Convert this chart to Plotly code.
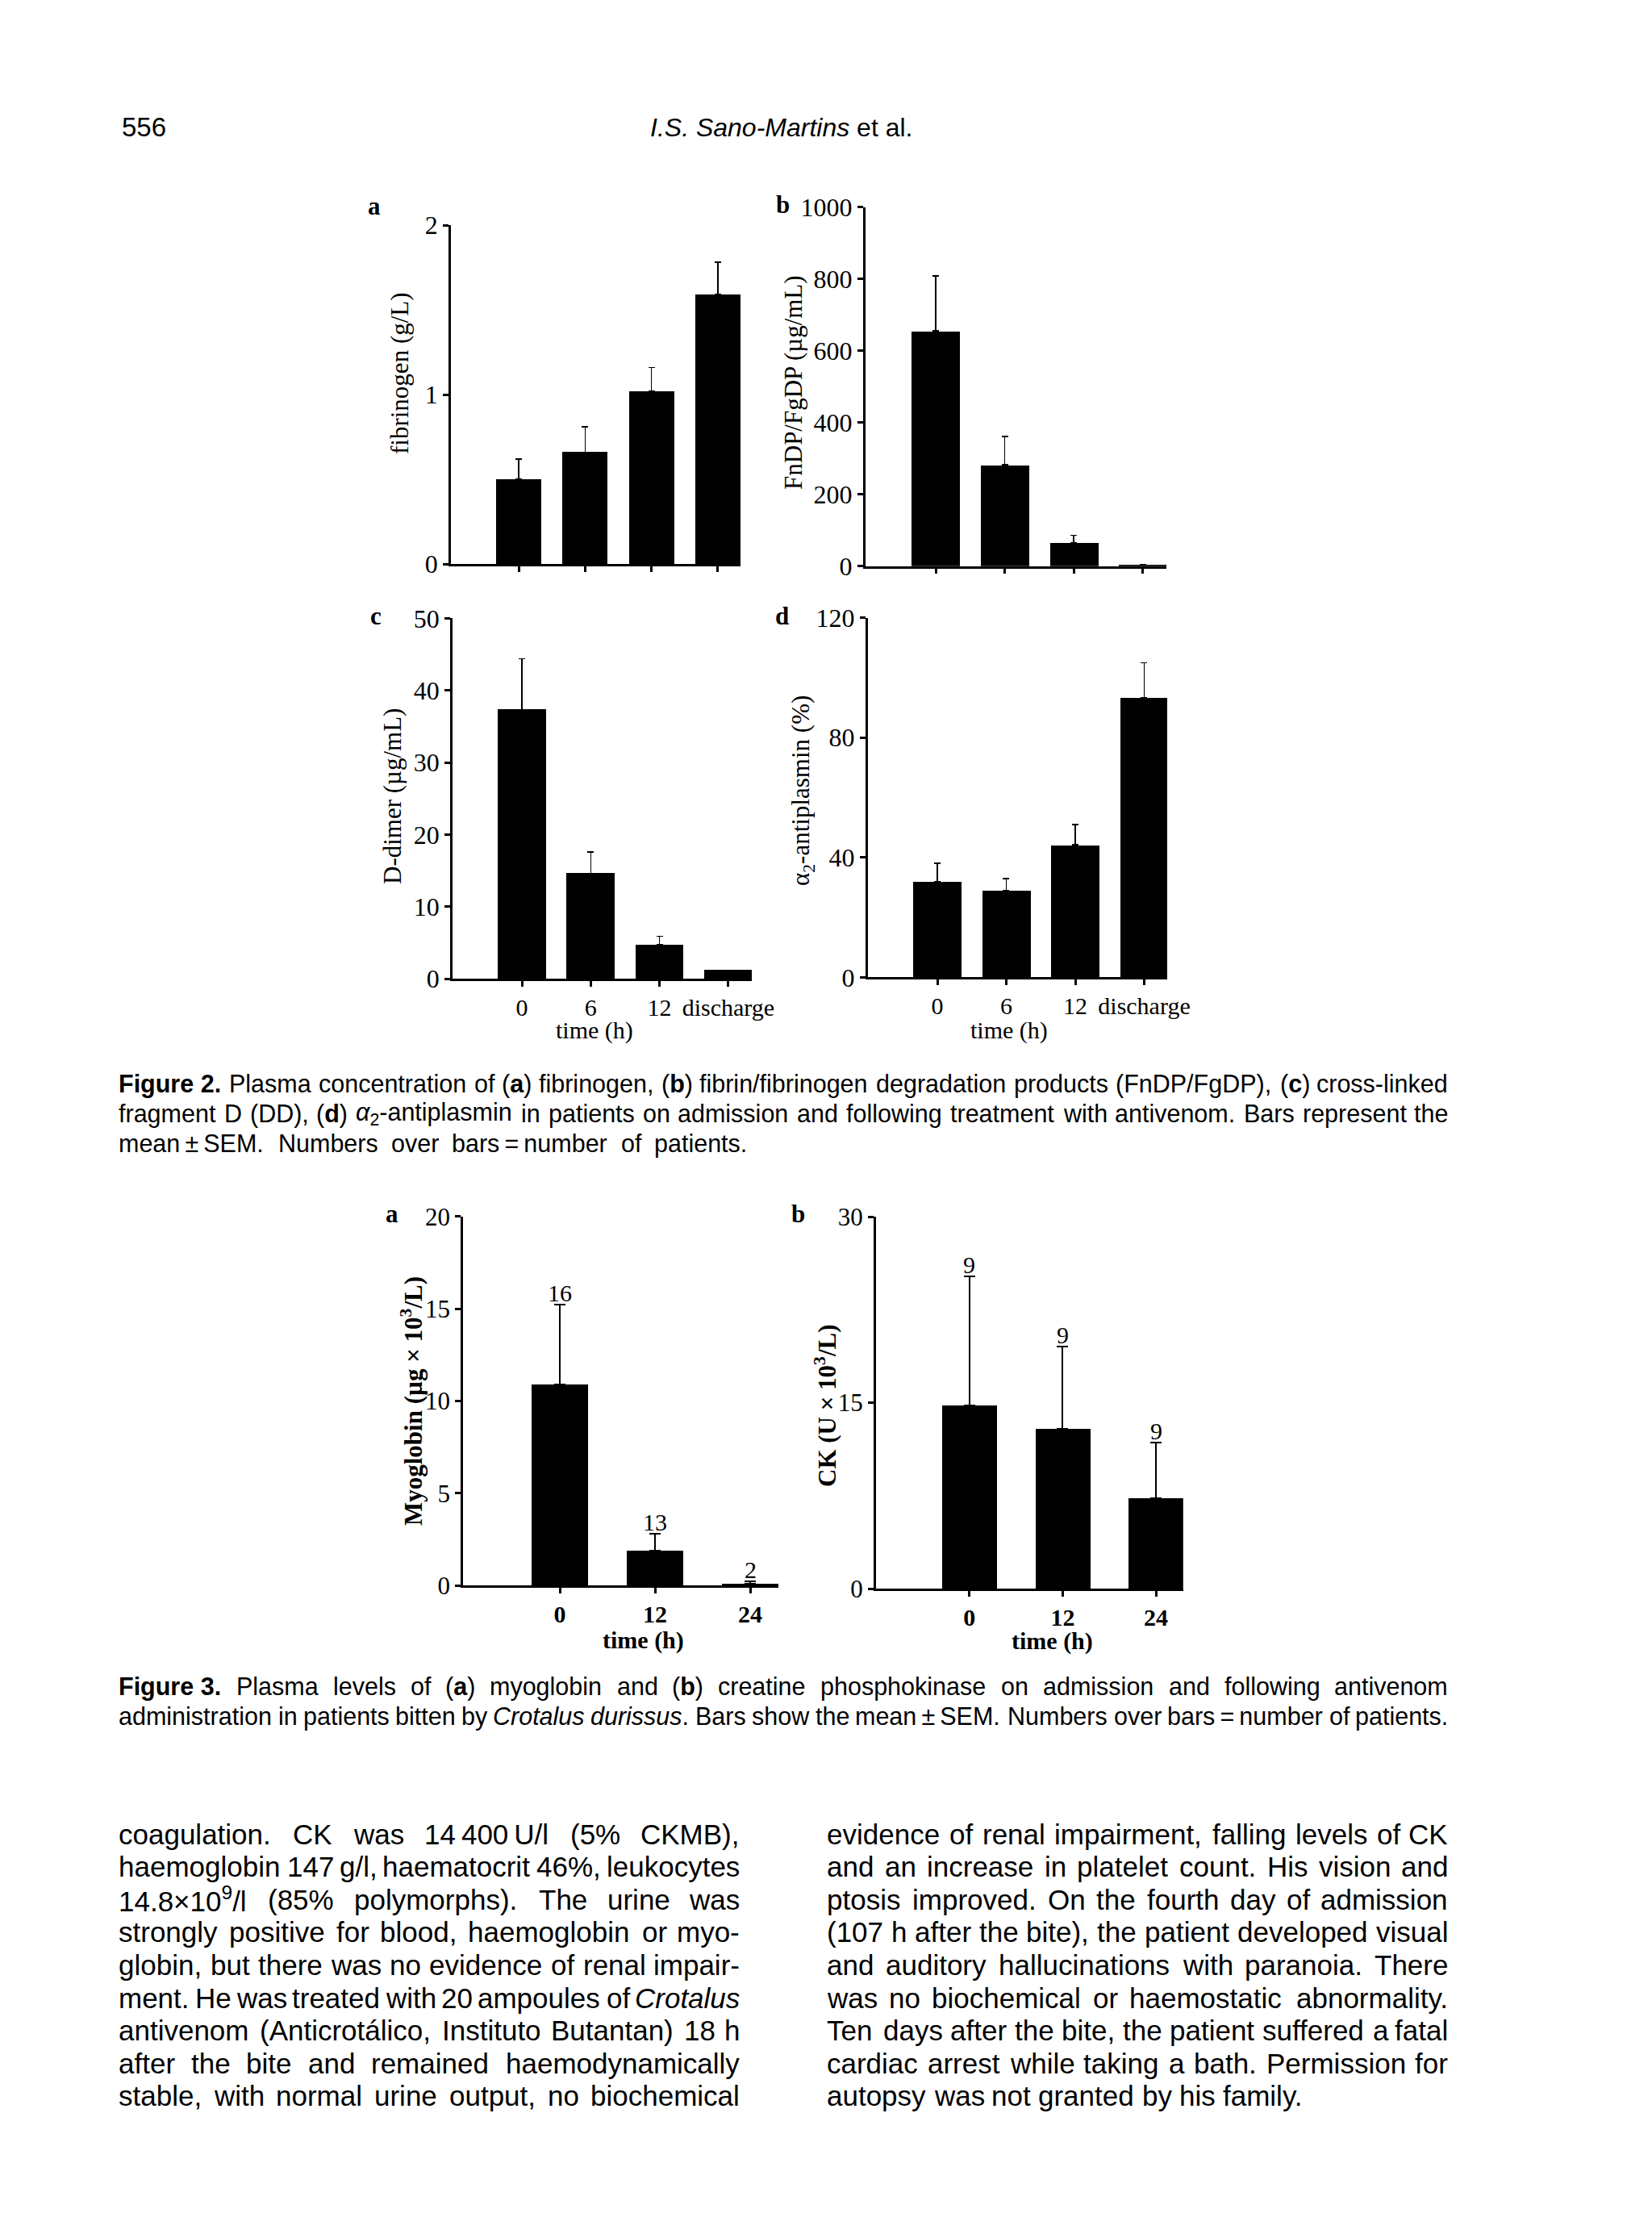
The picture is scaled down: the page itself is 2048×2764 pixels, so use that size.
import re
import plotly.graph_objects as go

# page geometry (browser body keeps its default 8px margin)
PAGE_W, PAGE_H = 2048, 2764
OFF = 8
FW, FH = 2030, 2746
SANS = "Liberation Sans, Arial, sans-serif"
SERIF = "Liberation Serif, Times New Roman, serif"

# ---------------- data ----------------
fig2_time_labels = ["0", "6", "12", "discharge"]
fibrinogen_mean = [0.50, 0.66, 1.02, 1.59]
fibrinogen_sem = [0.12, 0.15, 0.14, 0.19]
fdp_mean = [655, 282, 65, 5]
fdp_sem = [153, 79, 21, 0]
ddimer_mean = [37.3, 14.6, 4.7, 1.2]
ddimer_sem = [7.1, 3.0, 1.2, 0]
antiplasmin_mean = [32.0, 28.9, 44.2, 93.4]
antiplasmin_sem = [6.1, 4.0, 6.8, 11.6]

fig3_time_labels = ["0", "12", "24"]
myoglobin_mean = [10.9, 1.9, 0.1]
myoglobin_sem = [4.3, 0.9, 0.1]
myoglobin_n = [16, 13, 2]
ck_mean = [14.8, 12.9, 7.3]
ck_sem = [10.4, 6.6, 4.5]
ck_n = [9, 9, 9]

fig2_yticks_a = [0, 1, 2]
fig2_yticks_b = [0, 200, 400, 600, 800, 1000]
fig2_yticks_c = [0, 10, 20, 30, 40, 50]
fig2_yticks_d = [0, 40, 80, 120]
fig3_yticks_a = [0, 5, 10, 15, 20]
fig3_yticks_b = [0, 15, 30]

# ---------------- text ----------------
header_page = "556"
header_author = "<i>I.S. Sano-Martins</i> et al."

caption2_lines = [
    "<b>Figure\u00a02.</b> Plasma concentration of (<b>a</b>) fibrinogen, (<b>b</b>) fibrin/fibrinogen degradation products (FnDP/FgDP), (<b>c</b>) cross-linked",
    "fragment D (DD), (<b>d</b>) <i>α</i><sub>2</sub>-antiplasmin in patients on admission and following treatment with antivenom. Bars represent the",
    "mean\u2009±\u2009SEM. Numbers over bars\u2009=\u2009number of patients.",
]
caption3_lines = [
    "<b>Figure\u00a03.</b> Plasma levels of (<b>a</b>) myoglobin and (<b>b</b>) creatine phosphokinase on admission and following antivenom",
    "administration in patients bitten by <i>Crotalus</i> <i>durissus</i>. Bars show the mean\u2009±\u2009SEM. Numbers over bars\u2009=\u2009number of patients.",
]
body_left = [
    "coagulation. CK was 14\u2009400\u2009U/l (5% CKMB),",
    "haemoglobin 147 g/l, haematocrit 46%, leukocytes",
    "14.8×10<sup>9</sup>/l (85% polymorphs). The urine was",
    "strongly positive for blood, haemoglobin or myo-",
    "globin, but there was no evidence of renal impair-",
    "ment. He was treated with 20 ampoules of <i>Crotalus</i>",
    "antivenom (Anticrotálico, Instituto Butantan) 18 h",
    "after the bite and remained haemodynamically",
    "stable, with normal urine output, no biochemical",
]
body_right = [
    "evidence of renal impairment, falling levels of CK",
    "and an increase in platelet count. His vision and",
    "ptosis improved. On the fourth day of admission",
    "(107 h after the bite), the patient developed visual",
    "and auditory hallucinations with paranoia. There",
    "was no biochemical or haemostatic abnormality.",
    "Ten days after the bite, the patient suffered a fatal",
    "cardiac arrest while taking a bath. Permission for",
    "autopsy was not granted by his family.",
]

# ---------------- width metrics (Arial / Liberation Sans) ----------------
REG = {}
for ch, w in zip("abcdefghijklmnopqrstuvwxyz",
                 [556, 556, 500, 556, 556, 278, 556, 556, 222, 222, 500, 222, 833,
                  556, 556, 556, 556, 333, 500, 278, 556, 500, 722, 500, 500, 500]):
    REG[ch] = w
for ch, w in zip("ABCDEFGHIJKLMNOPQRSTUVWXYZ",
                 [667, 667, 722, 722, 667, 611, 778, 722, 278, 500, 667, 556, 833,
                  722, 778, 667, 778, 722, 667, 611, 722, 667, 944, 667, 667, 611]):
    REG[ch] = w
for ch in "0123456789":
    REG[ch] = 556
REG.update({' ': 278, '\u00a0': 278, '.': 278, ',': 278, ':': 278, ';': 278, '(': 333, ')': 333,
            '/': 278, '-': 333, '%': 889, '±': 584, '=': 584, '×': 584, 'á': 556,
            'α': 578, 'µ': 556, '\u2009': 200, "'": 191})
BOLD = dict(REG)
for ch, w in zip("abcdefghijklmnopqrstuvwxyz",
                 [556, 611, 556, 611, 556, 333, 611, 611, 278, 278, 556, 278, 889,
                  611, 611, 611, 611, 389, 556, 333, 611, 556, 778, 556, 556, 500]):
    BOLD[ch] = w
BOLD.update({'A': 722, 'B': 722, 'R': 722})


def tw(s, size):
    total = 0.0
    bold = False
    small = False
    for tok in re.split(r'(<[^>]+>)', s):
        if tok.startswith('<'):
            t = tok.lower()
            if t == '<b>':
                bold = True
            elif t == '</b>':
                bold = False
            elif t in ('<sup>', '<sub>'):
                small = True
            elif t in ('</sup>', '</sub>'):
                small = False
            continue
        for ch in tok:
            w = (BOLD if bold else REG).get(ch, 556)
            total += w * (0.7 if small else 1.0)
    return 1.01 * total * size / 1000.0


def pxx(x):
    return (x - OFF) / FW


def pxy(y):
    return 1 - (y - OFF) / FH


annotations = []


def add(x, y, text, size, family=SANS, xanchor='left', yanchor='middle', angle=0):
    annotations.append(dict(x=pxx(x), y=pxy(y), xref='paper', yref='paper', text=text,
                            showarrow=False, xanchor=xanchor, yanchor=yanchor, textangle=angle,
                            font=dict(family=family, size=size, color='black'), borderpad=0))


def set_line(text, left, right, yc, size, justify=True, natural_gap=0.278):
    words = text.split(' ')
    widths = [tw(w, size) for w in words]
    total = sum(widths)
    n = len(words)
    if justify and n > 1:
        gap = (right - left - total) / (n - 1)
        if gap < 0.15 * size:
            new = (right - left) / (total / size + (n - 1) * 0.2)
            return set_line(text, left, right, yc, new, justify)
    else:
        gap = natural_gap * size
    x = left
    for k, (w, wd) in enumerate(zip(words, widths)):
        if justify and n > 1 and k == n - 1:
            add(right, yc, w, size, xanchor='right')
        else:
            add(x, yc, w, size)
        x += wd + gap


# header
add(150, 158, header_page, 33)
add(805, 158, header_author, 32)

# captions
CAP = 30.5
for i, line in enumerate(caption2_lines):
    last = i == len(caption2_lines) - 1
    set_line(line, 146, 1796, 1343 + 37 * i, CAP, justify=not last,
             natural_gap=0.5 if last else 0.278)
for i, line in enumerate(caption3_lines):
    set_line(line, 146, 1796, 2090 + 37 * i, CAP, justify=True)

# body
BODY = 35
for i, line in enumerate(body_left):
    set_line(line, 146, 918, 2273 + 40.6 * i, BODY, justify=True)
for i, line in enumerate(body_right):
    set_line(line, 1024, 1796, 2273 + 40.6 * i, BODY, justify=(i < len(body_right) - 1),
             natural_gap=0.25)

# ---------------- panels ----------------
panels = [
    dict(mean=fibrinogen_mean, sem=fibrinogen_sem, labels=None, n=None, letter="a",
         ytitle="fibrinogen (g/L)", yticks=fig2_yticks_a, ymax=2,
         xl=559, xr=918, t0=643, dt=82.3, y0=699, y1=279, bw=0.68,
         letter_xy=(464, 255), ytitle_xy=(496, 463), xtitle_xy=None, bold=False),
    dict(mean=fdp_mean, sem=fdp_sem, labels=None, n=None, letter="b",
         ytitle="FnDP/FgDP (µg/mL)", yticks=fig2_yticks_b, ymax=1000,
         xl=1072.6, xr=1446, t0=1160, dt=85.6, y0=701.7, y1=256.7, bw=0.70,
         letter_xy=(970, 254), ytitle_xy=(983, 474), xtitle_xy=None, bold=False),
    dict(mean=ddimer_mean, sem=ddimer_sem, labels=fig2_time_labels, n=None, letter="c",
         ytitle="D-dimer (µg/mL)", yticks=fig2_yticks_c, ymax=50,
         xl=561, xr=932, t0=647, dt=85.3, y0=1213, y1=766.4, bw=0.70,
         letter_xy=(466, 763), ytitle_xy=(487, 987), xtitle_xy=(737, 1277), bold=False),
    dict(mean=antiplasmin_mean, sem=antiplasmin_sem, labels=fig2_time_labels, n=None, letter="d",
         ytitle="α<sub>2</sub>-antiplasmin (%)", yticks=fig2_yticks_d, ymax=120,
         xl=1075.7, xr=1447, t0=1162, dt=85.5, y0=1211.4, y1=765.7, bw=0.70,
         letter_xy=(969, 763), ytitle_xy=(995, 980), xtitle_xy=(1251, 1277), bold=False),
    dict(mean=myoglobin_mean, sem=myoglobin_sem, labels=fig3_time_labels, n=myoglobin_n, letter="a",
         ytitle="<b>Myoglobin (µg × 10<sup>3</sup>/L)</b>", yticks=fig3_yticks_a, ymax=20,
         xl=574, xr=965, t0=694, dt=118, y0=1965, y1=1507.7, bw=0.60,
         letter_xy=(486, 1504), ytitle_xy=(510, 1737), xtitle_xy=(797, 2033), bold=True),
    dict(mean=ck_mean, sem=ck_sem, labels=fig3_time_labels, n=ck_n, letter="b",
         ytitle="<b>CK (U × 10<sup>3</sup>/L)</b>", yticks=fig3_yticks_b, ymax=30,
         xl=1085.7, xr=1466.8, t0=1201.8, dt=115.6, y0=1969, y1=1508, bw=0.59,
         letter_xy=(989, 1504), ytitle_xy=(1023, 1742), xtitle_xy=(1304, 2034), bold=True),
]

fig = go.Figure()
layout = dict(width=FW, height=FH, autosize=False,
              margin=dict(l=0, r=0, t=0, b=0, pad=0, autoexpand=False),
              showlegend=False, paper_bgcolor='white', plot_bgcolor='white', bargap=0,
              template='none')
for i, p in enumerate(panels, start=1):
    ncat = len(p['mean'])
    xs = list(range(ncat))
    fig3 = p['bold']
    ytick_fs = 31 if fig3 else 32
    xtick_fs = 30
    title_fs = 31
    fig.add_trace(go.Bar(
        x=xs, y=p['mean'], width=p['bw'], xaxis=f'x{i}', yaxis=f'y{i}',
        marker=dict(color='black', line=dict(width=0)),
        error_y=dict(type='data', symmetric=False, array=p['sem'], arrayminus=[0] * ncat,
                     color='black', thickness=2 if fig3 else 1.5, width=7 if fig3 else 4),
        hoverinfo='skip'))
    xr = [-(p['t0'] - p['xl']) / p['dt'], (p['xr'] - p['t0']) / p['dt']]
    xa = dict(
        domain=[pxx(p['xl']), pxx(p['xr'])], range=xr, anchor=f'y{i}', automargin=False,
        tickmode='array', tickvals=xs,
        ticks='outside', ticklen=7, tickwidth=2.5, tickcolor='black',
        showline=True, linewidth=2.5, linecolor='black', showgrid=False, zeroline=False,
        tickfont=dict(family=SERIF, size=xtick_fs, color='black'), fixedrange=True)
    if p['labels'] is not None:
        xa['ticktext'] = [f"<b>{t}</b>" if fig3 else t for t in p['labels']]
        xa['showticklabels'] = True
    else:
        xa['showticklabels'] = False
    layout[f'xaxis{i}'] = xa
    layout[f'yaxis{i}'] = dict(
        domain=[pxy(p['y0']), pxy(p['y1'])], range=[0, p['ymax']], anchor=f'x{i}',
        automargin=False, tickmode='array', tickvals=p['yticks'],
        ticks='outside', ticklen=7, tickwidth=2.5, tickcolor='black',
        showline=True, linewidth=2.5, linecolor='black', showgrid=False, zeroline=False,
        tickfont=dict(family=SERIF, size=ytick_fs, color='black'), fixedrange=True)
    # panel letter
    add(p['letter_xy'][0], p['letter_xy'][1], f"<b>{p['letter']}</b>", 31, family=SERIF,
        xanchor='center')
    # y title
    add(p['ytitle_xy'][0], p['ytitle_xy'][1], p['ytitle'], title_fs, family=SERIF,
        xanchor='center', angle=-90)
    # x title
    if p['xtitle_xy'] is not None:
        t = "<b>time (h)</b>" if fig3 else "time (h)"
        add(p['xtitle_xy'][0], p['xtitle_xy'][1], t, 30, family=SERIF, xanchor='center')
    # n labels
    if p['n'] is not None:
        for k in xs:
            annotations.append(dict(
                x=k, y=p['mean'][k] + p['sem'][k], xref=f'x{i}', yref=f'y{i}',
                text=str(p['n'][k]), showarrow=False, xanchor='center', yanchor='bottom',
                yshift=-3, borderpad=0, font=dict(family=SERIF, size=30, color='black')))

layout['annotations'] = annotations
fig.update_layout(**layout)

fig.write_html("out.html", config=dict(displayModeBar=False))
